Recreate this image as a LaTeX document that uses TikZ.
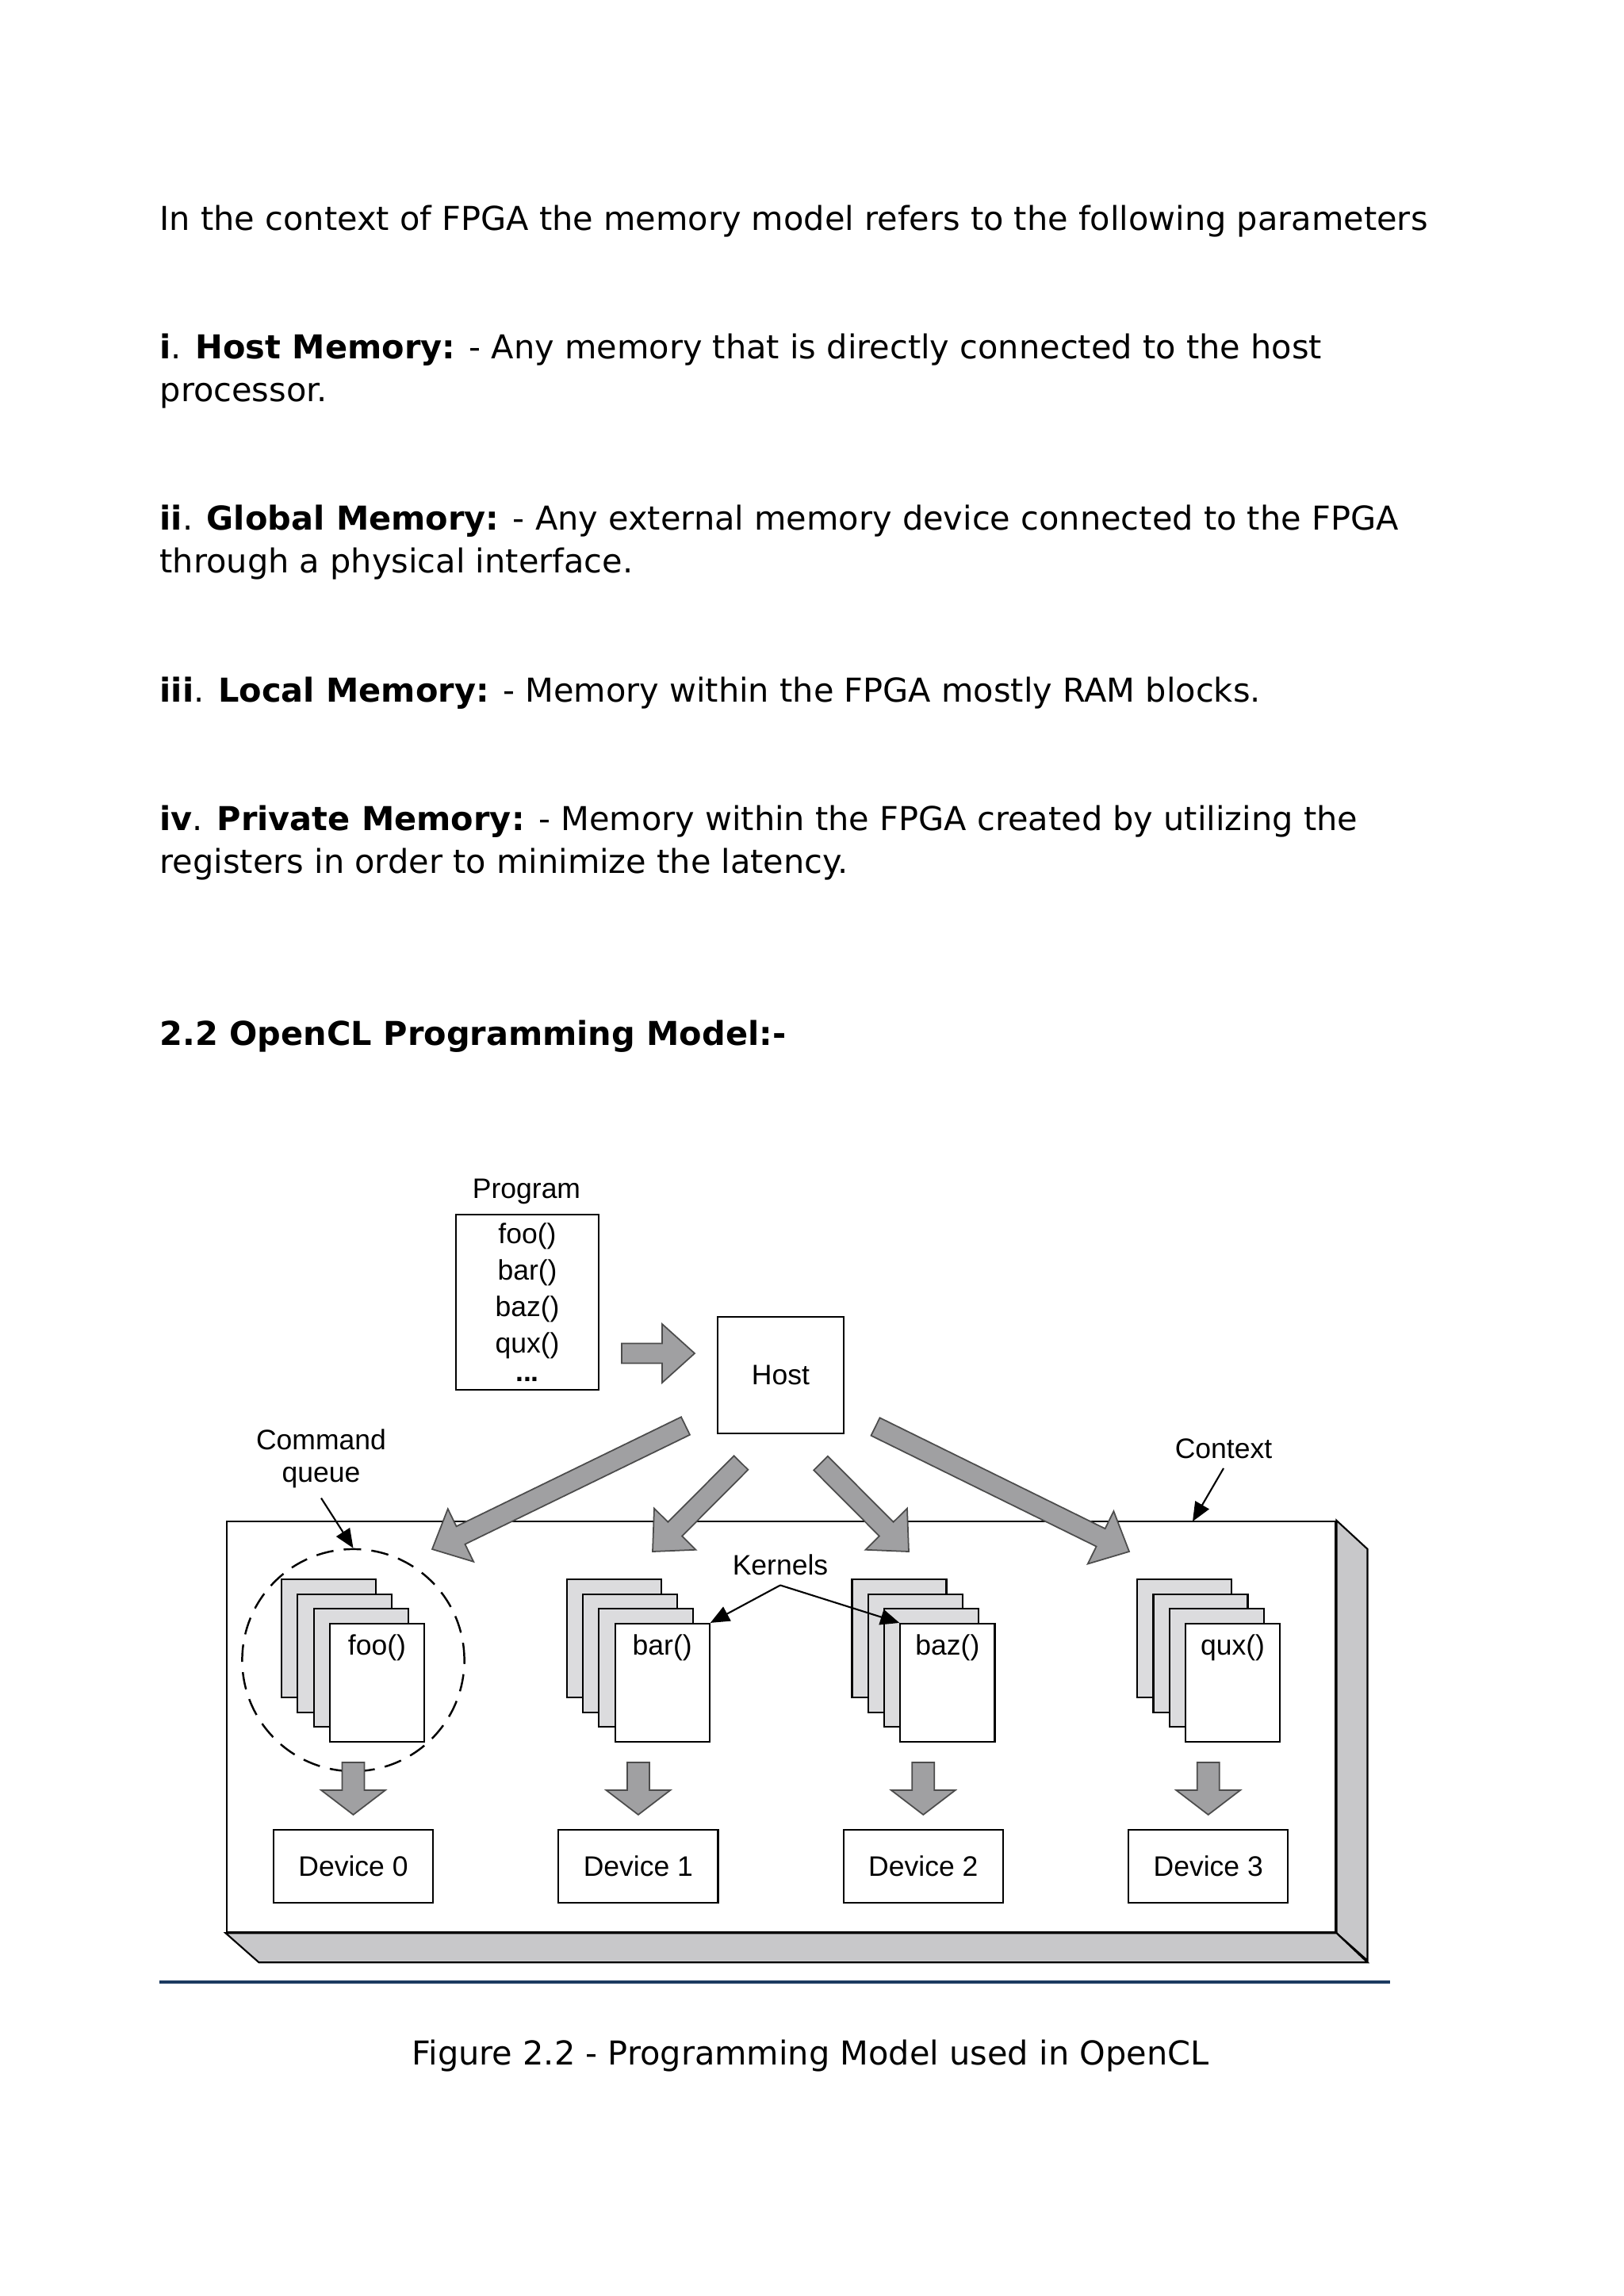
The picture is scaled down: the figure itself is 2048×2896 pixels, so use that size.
\documentclass[tikz,border=0pt]{standalone}
\usepackage{fontspec}
\setmainfont{DejaVu Sans}
\newfontfamily\figfont{Liberation Sans}
\usetikzlibrary{arrows.meta,calc,positioning}

\definecolor{arrowgray}{RGB}{160,160,162}
\definecolor{pagegray}{RGB}{220,220,222}
\definecolor{sidegray}{RGB}{200,200,202}
\definecolor{rulecol}{RGB}{28,58,96}

\tikzset{
  body/.style={anchor=base west, inner sep=0pt, font=\fontsize{11.8}{15.4}\selectfont},
  box/.style={draw, line width=0.6pt, fill=white},
  page/.style={draw, line width=0.6pt, minimum width=1.19cm, minimum height=1.49cm, inner sep=0pt},
  lbl/.style={font=\figfont\fontsize{10.1}{11.7}\selectfont, align=center},
  blockarr/.style={draw=black!70, fill=arrowgray, line width=0.5pt},
  pointer/.style={-{Triangle[length=0.24cm,width=0.2cm]}, line width=0.6pt},
}

% fat gray arrow: tail, tip, half shaft, half head, head length
\newcommand{\blockarrow}[5]{%
  \coordinate (hb) at ($(#2)!#5!(#1)$);
  \draw[blockarr] ($(#1)!#3!90:(#2)$) -- ($(hb)!#3!90:(#2)$) -- ($(hb)!#4!90:(#2)$)
    -- (#2) -- ($(hb)!#4!-90:(#2)$) -- ($(hb)!#3!-90:(#2)$) -- ($(#1)!#3!-90:(#2)$) -- cycle;}

\begin{document}
\begin{tikzpicture}[x=0.01cm, y=-0.01cm]
\useasboundingbox (0,0) rectangle (2048,2896);

% Text above the figure
\node[body] (intro) at (201,290) {In the context of FPGA the memory model refers to the following parameters};
\node[body] (hosta) at (201,452) {\textbf{i}. \textbf{Host Memory:} - Any memory that is directly connected to the host};
\node[body] (hostb) at (201,506) {processor.};
\node[body] (globa) at (201,668) {\textbf{ii}. \textbf{Global Memory:} - Any external memory device connected to the FPGA};
\node[body] (globb) at (201,722) {through a physical interface.};
\node[body] (loca) at (201,885) {\textbf{iii}. \textbf{Local Memory:} - Memory within the FPGA mostly RAM blocks.};
\node[body] (priva) at (201,1047) {\textbf{iv}. \textbf{Private Memory:} - Memory within the FPGA created by utilizing the};
\node[body] (privb) at (201,1101) {registers in order to minimize the latency.};
\node[body, font=\fontsize{11.8}{15.4}\selectfont\bfseries] (head) at (201,1318) {2.2 OpenCL Programming Model:-};

% Program and host
\node[lbl] (proglbl) at (664,1503) {Program};
\node[box, lbl, font=\figfont\fontsize{10.1}{13.1}\selectfont, inner sep=0pt, minimum width=1.8cm, minimum height=2.21cm] (prog) at (665,1642.5)
  {foo()\\bar()\\baz()\\qux()\\[-3pt]\textbf{...}};
\node[box, lbl, minimum width=1.59cm, minimum height=1.47cm] (host) at (984.5,1734.5) {Host};
\coordinate (ps) at (784,1707);
\coordinate (pt) at (876,1707);
\blockarrow{ps}{pt}{0.125cm}{0.37cm}{0.41cm}

% Context
\node[box, minimum width=13.98cm, minimum height=5.18cm] (ctx) at (985,2178) {};
\draw[box, fill=sidegray] (ctx.north east) -- ++(39,36) -- ++(0,519) -- (ctx.south east) -- cycle;
\draw[box, fill=sidegray] (ctx.south west) -- (ctx.south east) -- ++(39,37) -- ++(-1398,0) -- cycle;
\node[lbl] (ctxlbl) at (1543,1827) {Context};
\coordinate (ctxpt) at (1504,1919);
\draw[pointer] (ctxlbl.south) -- (ctxpt);

% Host to queues
\coordinate (a0s) at (864.5,1798.5); \coordinate (a0t) at (545,1954);
\coordinate (a1s) at (934.5,1845);   \coordinate (a1t) at (823,1957);
\coordinate (a2s) at (1035,1845.5);  \coordinate (a2t) at (1146,1957);
\coordinate (a3s) at (1104,1799.5);  \coordinate (a3t) at (1424,1957);
\foreach \a in {0,1,2,3}
  \blockarrow{a\a s}{a\a t}{0.125cm}{0.37cm}{0.4cm};

% Command queue
\node[lbl] (cqlbl) at (405,1840) {Command\\queue};
\node[draw, circle, line width=0.7pt, dash pattern=on 0.22cm off 0.13cm, minimum size=2.8cm] (cq) at (445.5,2094) {};
\draw[pointer] (cqlbl.south) -- (cq.north);

% Kernels and devices
\node[lbl] (kern) at (984,1974) {Kernels};
\foreach \fn [count=\i from 0] in {foo,bar,baz,qux} {
  \foreach \k in {0,1,2}
    \node[page, fill=pagegray] (\fn\k) at ({475.5+359.7*\i-(3-\k)*20.3},{2122.5-(3-\k)*18.7}) {};
  \node[page, fill=white, label={[lbl, anchor=north, inner sep=4pt]north:\fn()}] (\fn3) at ({475.5+359.7*\i},2122.5) {};
  \node[box, lbl, minimum width=2.01cm, minimum height=0.92cm] (dev\i) at ({445.5+359.4*\i},2354) {Device \i};
  \coordinate (ds\i) at ($(dev\i.north)+(0,-84)$);
  \coordinate (dt\i) at ($(dev\i.north)+(0,-18)$);
  \blockarrow{ds\i}{dt\i}{0.14cm}{0.405cm}{0.31cm}
}
\draw[pointer] (kern.south) -- (bar3.north east);
\draw[pointer] (kern.south) -- (baz3.north west);

% Caption
\draw[rulecol, line width=0.9pt] (201,2500) -- (1753,2500);
\node[body, anchor=base] (cap) at (1022,2604) {Figure 2.2 - Programming Model used in OpenCL};
\end{tikzpicture}
\end{document}
